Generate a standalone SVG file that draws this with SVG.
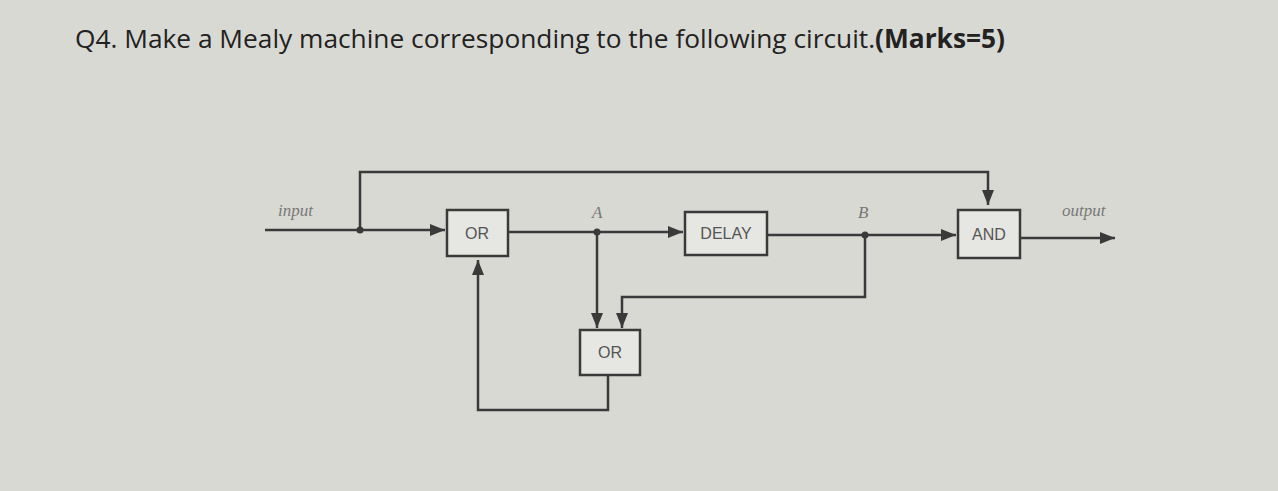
<svg xmlns="http://www.w3.org/2000/svg" width="1278" height="491" viewBox="0 0 1278 491">
<style>
.w{fill:none;stroke:#3a3a3a;stroke-width:2.5}
.b{fill:#e6e6e2;stroke:#3a3a3a;stroke-width:2.5}
.t{font-family:"Liberation Sans",Arial,sans-serif;font-size:16px;fill:#555;text-anchor:middle}
.l{font-family:"Liberation Serif",serif;font-style:italic;font-size:17px;fill:#777}
</style>
<defs><marker id="a" viewBox="0 0 10 10" refX="10" refY="5" markerWidth="6" markerHeight="6" orient="auto"><path d="M0,1L10,5L0,9z" fill="#3a3a3a"/></marker></defs>
<rect width="1278" height="491" fill="#d9d9d4"/>
<text x="75" y="48" font-family="'Open Sans','Liberation Sans',sans-serif" font-size="22" fill="#222" textLength="930" lengthAdjust="spacingAndGlyphs" style="font-size:26px">Q4. Make a Mealy machine corresponding to the following circuit.<tspan font-weight="bold">(Marks=5)</tspan></text>
<g id="connectors">
<path class="w" d="M265,230H445" marker-end="url(#a)"/>
<path class="w" d="M360,230V172H988V205" marker-end="url(#a)"/>
<path class="w" d="M508,232H683" marker-end="url(#a)"/>
<path class="w" d="M597,232V328" marker-end="url(#a)"/>
<path class="w" d="M767,235H956" marker-end="url(#a)"/>
<path class="w" d="M865,235V297H622V328" marker-end="url(#a)"/>
<path class="w" d="M1020,238H1115" marker-end="url(#a)"/>
<path class="w" d="M608,375V410H478V260" marker-end="url(#a)"/>
<circle cx="360" cy="230" r="3.5" fill="#3a3a3a"/>
<circle cx="597" cy="232" r="3.5" fill="#3a3a3a"/>
<circle cx="865" cy="235" r="3.5" fill="#3a3a3a"/>
<text class="l" x="278" y="216">input</text>
<text class="l" x="592" y="218">A</text>
<text class="l" x="858" y="218">B</text>
<text class="l" x="1062" y="216">output</text>
</g>
<g id="or1"><rect class="b" x="447" y="210" width="61" height="46"/><text class="t" x="477" y="239">OR</text></g>
<g id="delay"><rect class="b" x="685" y="212" width="82" height="43"/><text class="t" x="726" y="239">DELAY</text></g>
<g id="and"><rect class="b" x="958" y="210" width="62" height="48"/><text class="t" x="989" y="240">AND</text></g>
<g id="or2"><rect class="b" x="580" y="330" width="60" height="45"/><text class="t" x="610" y="358">OR</text></g>
</svg>
